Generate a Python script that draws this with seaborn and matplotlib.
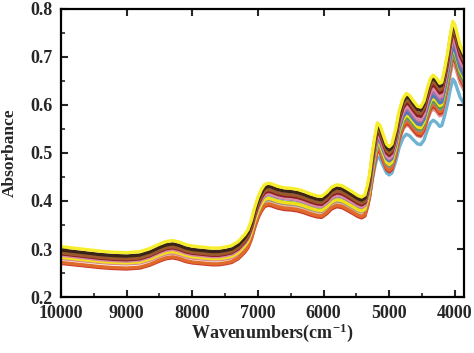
import numpy as np
import pandas as pd
import seaborn as sns
import matplotlib.pyplot as plt
from matplotlib.ticker import MultipleLocator

# mean spectrum
wavenumber = [10000, 9800, 9600, 9400, 9200, 9000, 8800, 8650, 8500, 8400,
              8300, 8200, 8100, 8000, 7850, 7700, 7600, 7500, 7400, 7300,
              7200, 7150, 7100, 7050, 7000, 6950, 6900, 6850, 6800, 6700,
              6600, 6500, 6400, 6300, 6200, 6100, 6030, 5950, 5880, 5800,
              5720, 5650, 5550, 5480, 5420, 5370, 5330, 5300, 5260, 5220,
              5180, 5140, 5090, 5040, 5000, 4960, 4900, 4850, 4790, 4740,
              4690, 4630, 4570, 4520, 4470, 4420, 4370, 4330, 4280, 4230,
              4200, 4160, 4110, 4070, 4030, 4000, 3960, 3920, 3860]
absorbance_mean = [0.288, 0.285, 0.282, 0.279, 0.277, 0.276, 0.278, 0.284, 0.293, 0.298,
                   0.300, 0.297, 0.292, 0.289, 0.287, 0.285, 0.285, 0.287, 0.290, 0.298,
                   0.312, 0.322, 0.340, 0.365, 0.385, 0.400, 0.410, 0.413, 0.412, 0.407,
                   0.404, 0.403, 0.401, 0.397, 0.392, 0.388, 0.387, 0.395, 0.405, 0.410,
                   0.408, 0.403, 0.395, 0.389, 0.386, 0.390, 0.410, 0.430, 0.470, 0.505,
                   0.532, 0.527, 0.508, 0.490, 0.485, 0.490, 0.520, 0.555, 0.580, 0.590,
                   0.586, 0.575, 0.565, 0.563, 0.575, 0.600, 0.620, 0.626, 0.620, 0.610,
                   0.612, 0.635, 0.670, 0.705, 0.732, 0.725, 0.705, 0.685, 0.668]

# individual samples: colour, absorbance at 10000 and at the 4030 peak
sample_colors = ["#6fb3d2", "#d98c8c", "#e8b4a0", "#c8392b", "#e06a2a",
                 "#8c8c8c", "#4f9a3c", "#f2e01a", "#4f7bb5", "#a46aa6",
                 "#d98aa6", "#8b1c24", "#9c5a2c", "#3a2418", "#f6ee2a"]
abs_at_10000 = [0.295, 0.280, 0.283, 0.270, 0.272,
                0.284, 0.286, 0.283, 0.293, 0.289,
                0.287, 0.290, 0.292, 0.298, 0.305]
abs_at_4030 = [0.654, 0.690, 0.695, 0.700, 0.705,
               0.708, 0.712, 0.718, 0.722, 0.735,
               0.742, 0.752, 0.760, 0.768, 0.774]

sns.set_theme(style="ticks")
plt.rcParams["font.family"] = ["Liberation Serif", "DejaVu Serif"]
plt.rcParams["font.weight"] = "bold"
plt.rcParams["mathtext.fontset"] = "custom"
plt.rcParams["mathtext.rm"] = "Liberation Serif:bold"
plt.rcParams["mathtext.default"] = "rm"

base = np.array(absorbance_mean)
b_lo = base[wavenumber.index(10000)]
b_hi = base[wavenumber.index(4030)]
frames = []
for i, (lo, hi) in enumerate(zip(abs_at_10000, abs_at_4030)):
    gain = (hi - lo) / (b_hi - b_lo)
    frames.append(pd.DataFrame({"wn": wavenumber,
                                "A": lo + gain * (base - b_lo),
                                "sample": i}))
df = pd.concat(frames, ignore_index=True)

fig = plt.figure(figsize=(4.74, 3.53), dpi=100)
ax = fig.add_axes([0.1287, 0.1586, 0.8503, 0.816])
sns.lineplot(data=df, x="wn", y="A", hue="sample", palette=sample_colors,
             estimator=None, legend=False, linewidth=2.4, ax=ax)

ax.set_xlim(10000, 3860)
ax.set_ylim(0.2, 0.8)
ax.xaxis.set_major_locator(MultipleLocator(1000))
ax.xaxis.set_minor_locator(MultipleLocator(500))
ax.yaxis.set_major_locator(MultipleLocator(0.1))
ax.yaxis.set_minor_locator(MultipleLocator(0.05))
ax.tick_params(which="major", direction="in", length=5, width=1.5,
               top=True, right=True, labelsize=13, pad=6)
ax.tick_params(which="minor", direction="in", length=3, width=1.2,
               top=False, right=False)
for s in ax.spines.values():
    s.set_linewidth(1.6)
    s.set_color("black")

ax.set_xlabel("Wavenumbers(cm$^{-1}$)", fontsize=13, fontweight="bold")
ax.set_ylabel("Absorbance", fontsize=12.5, fontweight="bold")
ax.xaxis.set_label_coords(0.523, -0.085)
ax.yaxis.set_label_coords(-0.106, 0.5)

fig.savefig("out.png", dpi=100)
